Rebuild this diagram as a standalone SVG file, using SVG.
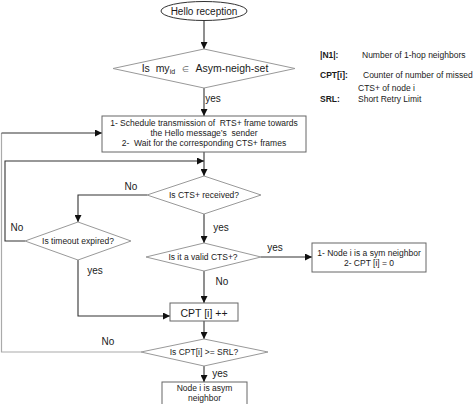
<svg xmlns="http://www.w3.org/2000/svg" width="474" height="404" viewBox="0 0 474 404">
<style>
text{font-family:"Liberation Sans",Arial,sans-serif;fill:#1a1a1a}
.t{font-size:8.5px;text-anchor:middle}
.m{font-size:10px;text-anchor:middle}
.lbl{font-size:10px;text-anchor:middle}
.lg{font-size:8.5px}
.b{font-weight:bold}
.dia{fill:#fff;stroke:#999;stroke-width:1}
.box{fill:#fff;stroke:#666;stroke-width:1}
.c{fill:none;stroke:#333;stroke-width:1.1}
.c2{fill:none;stroke:#aaa;stroke-width:1.2}
</style>
<defs>
<marker id="ah" viewBox="0 0 10 10" refX="10" refY="5" markerWidth="7" markerHeight="7" markerUnits="userSpaceOnUse" orient="auto">
<path d="M0,0 L10,5 L0,10 z" fill="#111"/>
</marker>
</defs>
<g id="connectors">
<line class="c" x1="204" y1="20.5" x2="204" y2="49" marker-end="url(#ah)"/>
<line class="c" x1="204" y1="88" x2="204" y2="116" marker-end="url(#ah)"/>
<line class="c" x1="204" y1="152" x2="204" y2="176" marker-end="url(#ah)"/>
<polyline class="c" points="25,241 5,241 5,161 204,161" marker-end="url(#ah)"/>
<polyline class="c" points="147,195 78,195 78,222" marker-end="url(#ah)"/>
<polyline class="c" points="78,260 78,316 170,316" marker-end="url(#ah)"/>
<line class="c" x1="204" y1="214" x2="204" y2="243" marker-end="url(#ah)"/>
<line class="c" x1="261" y1="257" x2="312" y2="257" marker-end="url(#ah)"/>
<line class="c" x1="204" y1="271" x2="204" y2="303" marker-end="url(#ah)"/>
<line class="c" x1="204" y1="321" x2="204" y2="339" marker-end="url(#ah)"/>
<line class="c" x1="204" y1="366" x2="204" y2="382" marker-end="url(#ah)"/>
<polyline class="c2" points="141,352 1.5,352 1.5,133"/>
<polyline class="c" points="1.5,133 102,133" marker-end="url(#ah)"/>
<text class="lbl" x="213" y="102">yes</text>
<text class="lbl" x="131" y="190">No</text>
<text class="lbl" x="17" y="231">No</text>
<text class="lbl" x="95" y="274">yes</text>
<text class="lbl" x="221" y="231">yes</text>
<text class="lbl" x="275" y="251">yes</text>
<text class="lbl" x="222" y="285">No</text>
<text class="lbl" x="108" y="345">No</text>
<text class="lbl" x="220" y="377">yes</text>
</g>
<g id="start">
<ellipse cx="204" cy="11" rx="43" ry="9.5" fill="#fff" stroke="#333" stroke-width="1"/>
<text class="m" x="204" y="14.5">Hello reception</text>
</g>
<g id="d-asym">
<polygon class="dia" points="113,68.5 204,49 295,68.5 204,88"/>
<text x="205" y="72" xml:space="preserve" style="font-size:10.5px;text-anchor:middle">Is  my<tspan style="font-size:7px" dy="2">id</tspan><tspan dy="-2" style="font-size:8px;fill:#666">   ∈   </tspan>Asym-neigh-set</text>
</g>
<g id="schedule">
<rect class="box" x="102" y="116" width="204" height="36"/>
<text class="t" x="204" y="126" xml:space="preserve">1- Schedule transmission of  RTS+ frame towards</text>
<text class="t" x="204" y="136" xml:space="preserve">the Hello message’s  sender</text>
<text class="t" x="204" y="146" xml:space="preserve">2-  Wait for the corresponding CTS+ frames</text>
</g>
<g id="d-cts">
<polygon class="dia" points="147,195 204,176 261,195 204,214"/>
<text class="t" x="204" y="198">Is CTS+ received?</text>
</g>
<g id="d-timeout">
<polygon class="dia" points="25,241 78,222 131,241 78,260"/>
<text class="t" x="78" y="244">Is timeout expired?</text>
</g>
<g id="d-valid">
<polygon class="dia" points="146,257 204,243 261,257 204,271"/>
<text class="t" x="203" y="260">Is it a valid CTS+?</text>
</g>
<g id="sym">
<rect class="box" x="312" y="243" width="114" height="29"/>
<text class="t" x="369" y="256">1- Node i is a sym neighbor</text>
<text class="t" x="369" y="266">2- CPT [i] = 0</text>
</g>
<g id="cpt">
<rect class="box" x="170" y="303" width="68" height="18"/>
<text x="204" y="317" style="font-size:10.5px;text-anchor:middle">CPT [i] ++</text>
</g>
<g id="d-srl">
<polygon class="dia" points="141,352 204,339 268,352 204,366"/>
<text class="t" x="204" y="355">Is CPT[i] &gt;= SRL?</text>
</g>
<g id="asym">
<rect class="box" x="162" y="382" width="85" height="30"/>
<text class="t" x="204.5" y="391">Node i is asym</text>
<text class="t" x="204.5" y="401">neighbor</text>
</g>
<g id="legend">
<text class="lg b" x="320" y="58">|N1|:</text>
<text class="lg" x="362" y="58">Number of 1-hop neighbors</text>
<text class="lg b" x="320" y="78">CPT[i]:</text>
<text class="lg" x="363" y="78">Counter of number of missed</text>
<text class="lg" x="358" y="91">CTS+ of node i</text>
<text class="lg b" x="320" y="102">SRL:</text>
<text class="lg" x="358" y="102">Short Retry Limit</text>
</g>
</svg>
